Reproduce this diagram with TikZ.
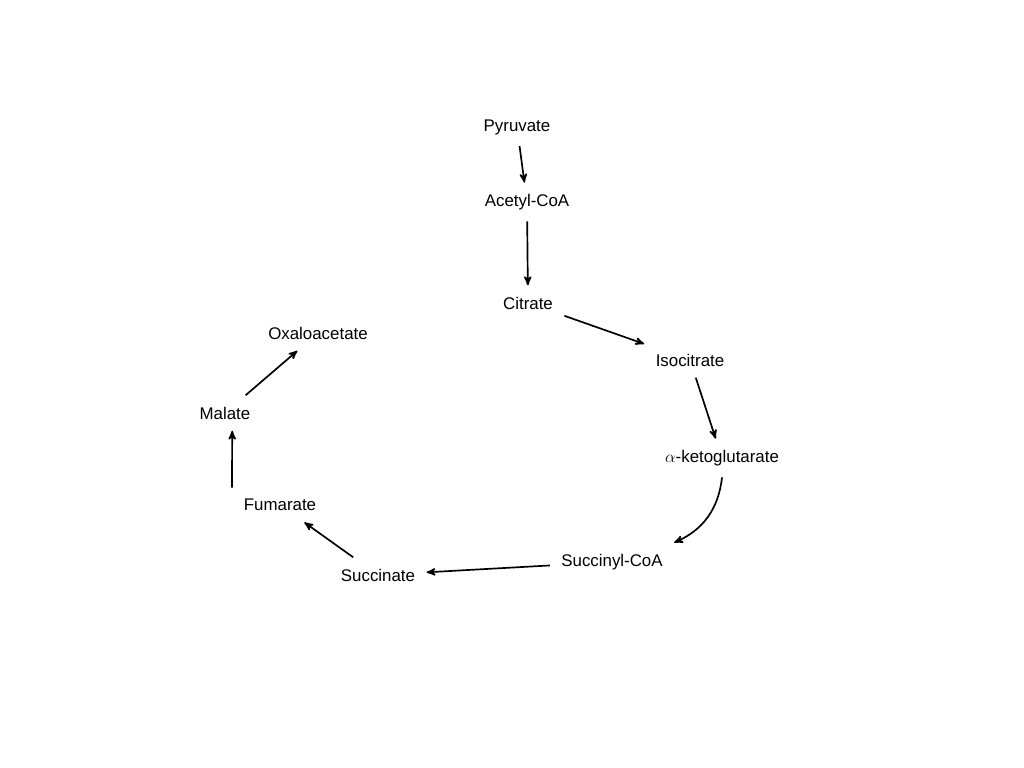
\documentclass[tikz,border=0pt]{standalone}
\usepackage{fontspec}
\setmainfont{Liberation Sans}
\usetikzlibrary{arrows}
\begin{document}
\begin{tikzpicture}[x=0.025cm,y=-0.025cm]
	\useasboundingbox (0,0) rectangle (1024,768);
	\tikzstyle{every node}=[font=\large,inner sep=8pt];
	\node (pyr) at (517,127) {Pyruvate};
	\node (acc) at (527,202) {Acetyl-CoA};
	\node (cit) at (528,303) {Citrate};
	\node (iso) at (690,360) {Isocitrate};
	\node (akg) at (722,458) {$\alpha$-ketoglutarate};
	\node (scc) at (612,562) {Succinyl-CoA};
	\node (suc) at (378,575) {Succinate};
	\node (fum) at (280,505) {Fumarate};
	\node (mal) at (225,413) {Malate};
	\node (oxa) at (318,333) {Oxaloacetate};
	\tikzstyle{every path}=[->,>=stealth',very thick];
	\draw (pyr)--(acc);
	\draw (acc)--(cit);
	\draw (cit)--(iso);
	\draw (iso)--(akg);
	\draw (akg.south) to[bend left=30] (scc.north east);
	\draw (scc)--(suc);
	\draw (suc)--(fum);
	\draw ([xshift=-1.2cm]fum.north)--([xshift=0.18cm]mal.south);
	\draw (mal)--(oxa);
\end{tikzpicture}
\end{document}
